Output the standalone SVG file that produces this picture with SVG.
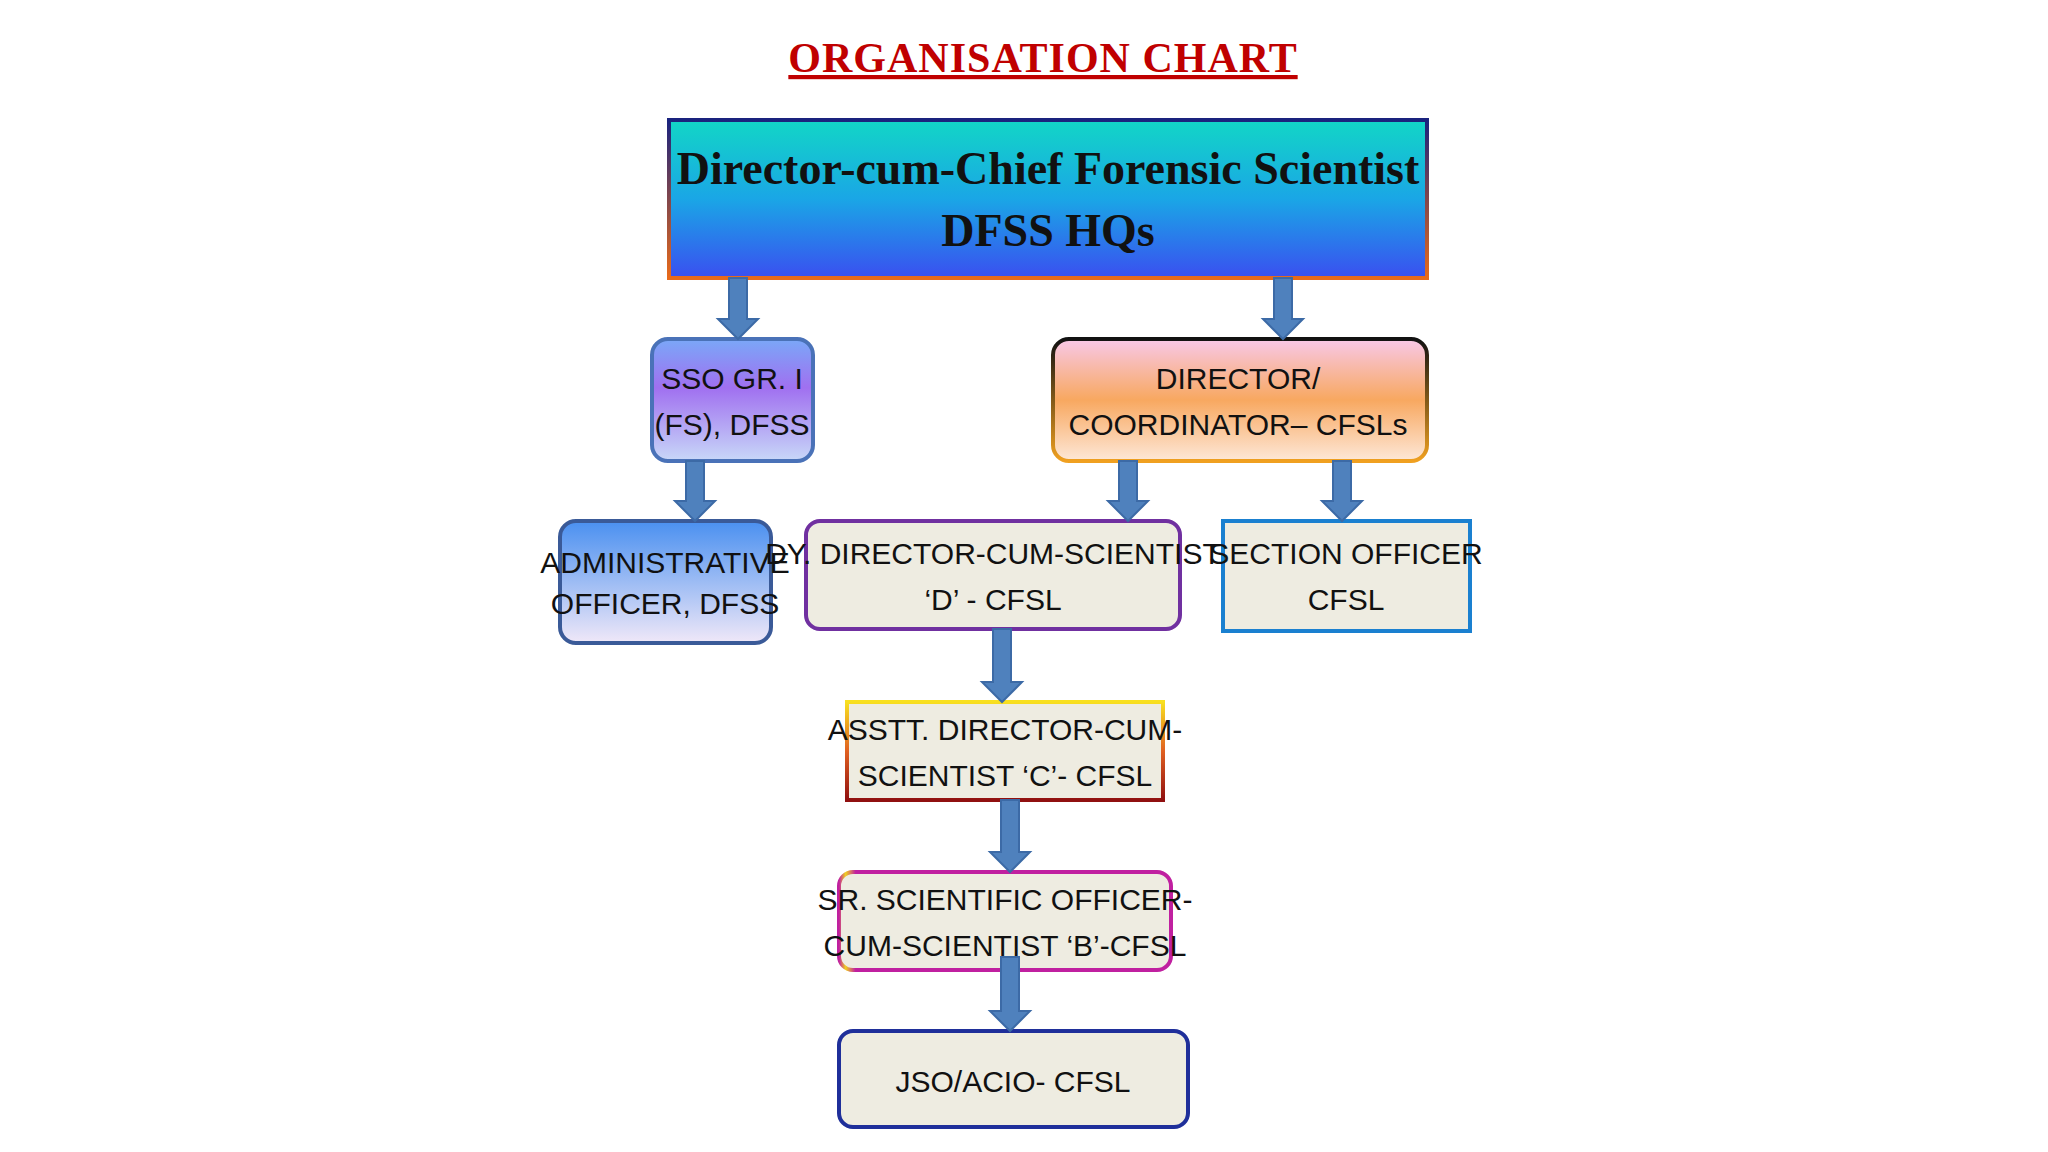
<svg xmlns="http://www.w3.org/2000/svg" width="2048" height="1152" viewBox="0 0 2048 1152">
<defs>
<linearGradient id="gTop" x1="0" y1="0" x2="0" y2="1"><stop offset="0" stop-color="#12d6c6"/><stop offset="0.5" stop-color="#1aa6e6"/><stop offset="1" stop-color="#3a4ff0"/></linearGradient>
<linearGradient id="gTopS" x1="0" y1="0" x2="0" y2="1"><stop offset="0" stop-color="#1a237e"/><stop offset="1" stop-color="#e86a1a"/></linearGradient>
<linearGradient id="gSso" x1="0" y1="0" x2="0" y2="1"><stop offset="0" stop-color="#7aa8f8"/><stop offset="0.4" stop-color="#a070f0"/><stop offset="1" stop-color="#c8d8f8"/></linearGradient>
<linearGradient id="gDir" x1="0" y1="0" x2="0" y2="1"><stop offset="0" stop-color="#f8c8e8"/><stop offset="0.5" stop-color="#f8a860"/><stop offset="1" stop-color="#fde8d8"/></linearGradient>
<linearGradient id="gDirS" x1="0" y1="0" x2="0" y2="1"><stop offset="0" stop-color="#111"/><stop offset="1" stop-color="#f0a020"/></linearGradient>
<linearGradient id="gAdm" x1="0" y1="0" x2="0" y2="1"><stop offset="0" stop-color="#4a90f0"/><stop offset="1" stop-color="#f0e8f8"/></linearGradient>
<linearGradient id="gAss" x1="0" y1="0" x2="0" y2="1"><stop offset="0" stop-color="#f8e020"/><stop offset="0.5" stop-color="#e06020"/><stop offset="1" stop-color="#901010"/></linearGradient>
<linearGradient id="gSr" x1="0" y1="0" x2="1" y2="0"><stop offset="0" stop-color="#c020a0"/><stop offset="0.02" stop-color="#f0d020"/><stop offset="0.05" stop-color="#c020a0"/><stop offset="1" stop-color="#c020a0"/></linearGradient>
</defs>
<style>
.t{font-family:"Liberation Sans",Arial,sans-serif;font-size:30px;fill:#111;text-anchor:middle;font-stretch:condensed}
.ar{fill:#4f81bd;stroke:#3c6aa6;stroke-width:2}
.bx{fill:#eeece1;stroke-width:4}
</style>
<text x="1043" y="72" font-family="Liberation Serif,serif" font-weight="bold" font-size="42" fill="#c00000" text-anchor="middle" text-decoration="underline" letter-spacing="1">ORGANISATION CHART</text>
<g id="top"><rect x="669" y="120" width="758" height="158" fill="url(#gTop)" stroke="url(#gTopS)" stroke-width="4"/>
<text x="1048" y="184" font-family="Liberation Serif,serif" font-weight="bold" font-size="46" fill="#111" text-anchor="middle">Director-cum-Chief Forensic Scientist</text>
<text x="1048" y="246" font-family="Liberation Serif,serif" font-weight="bold" font-size="46" fill="#111" text-anchor="middle">DFSS HQs</text></g>
<g id="sso"><rect x="652" y="339" width="161" height="122" rx="16" fill="url(#gSso)" stroke="#4a72b8" stroke-width="4"/>
<text class="t" x="732" y="389">SSO GR. I</text><text class="t" x="732" y="435">(FS), DFSS</text></g>
<g id="dir"><rect x="1053" y="339" width="374" height="122" rx="16" fill="url(#gDir)" stroke="url(#gDirS)" stroke-width="4"/>
<text class="t" x="1238" y="389">DIRECTOR/</text><text class="t" x="1238" y="435">COORDINATOR– CFSLs</text></g>
<g id="adm"><rect x="560" y="521" width="211" height="122" rx="16" fill="url(#gAdm)" stroke="#3a5a98" stroke-width="4"/>
<text class="t" x="665" y="573">ADMINISTRATIVE</text><text class="t" x="665" y="614">OFFICER, DFSS</text></g>
<g id="dy"><rect class="bx" x="806" y="521" width="374" height="108" rx="14" stroke="#7030a0"/>
<text class="t" x="993" y="564">DY. DIRECTOR-CUM-SCIENTIST</text><text class="t" x="993" y="610">‘D’ - CFSL</text></g>
<g id="sec"><rect class="bx" x="1223" y="521" width="247" height="110" stroke="#1a80d0"/>
<text class="t" x="1346" y="564">SECTION OFFICER</text><text class="t" x="1346" y="610">CFSL</text></g>
<g id="ass"><rect class="bx" x="847" y="702" width="316" height="98" stroke="url(#gAss)"/>
<text class="t" x="1005" y="740">ASSTT. DIRECTOR-CUM-</text><text class="t" x="1005" y="786">SCIENTIST ‘C’- CFSL</text></g>
<g id="sr"><rect class="bx" x="839" y="872" width="332" height="98" rx="14" stroke="url(#gSr)"/>
<text class="t" x="1005" y="910">SR. SCIENTIFIC OFFICER-</text><text class="t" x="1005" y="956">CUM-SCIENTIST ‘B’-CFSL</text></g>
<g id="jso"><rect class="bx" x="839" y="1031" width="349" height="96" rx="14" stroke="#1f2f9a"/>
<text class="t" x="1013" y="1092">JSO/ACIO- CFSL</text></g>
<g id="connectors">
<path class="ar" d="M729 278V319H718L738 339L758 319H747V278Z"/>
<path class="ar" d="M1274 278V319H1263L1283 339L1303 319H1292V278Z"/>
<path class="ar" d="M686 461V501H675L695 521L715 501H704V461Z"/>
<path class="ar" d="M1119 461V501H1108L1128 521L1148 501H1137V461Z"/>
<path class="ar" d="M1333 461V501H1322L1342 521L1362 501H1351V461Z"/>
<path class="ar" d="M993 629V682H982L1002 702L1022 682H1011V629Z"/>
<path class="ar" d="M1001 800V852H990L1010 872L1030 852H1019V800Z"/>
<path class="ar" d="M1001 957V1011H990L1010 1031L1030 1011H1019V957Z"/>
</g>
</svg>
